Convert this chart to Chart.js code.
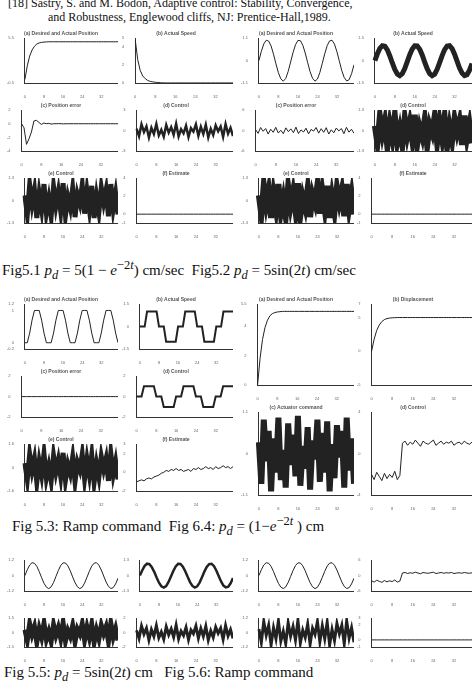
<!DOCTYPE html>
<html><head><meta charset="utf-8">
<script src="https://cdn.jsdelivr.net/npm/chart.js@4"></script>
<style>
body{margin:0;background:#fff;width:474px;height:681px;position:relative;overflow:hidden;font-family:"Liberation Serif",serif;}
canvas{position:absolute;}
.t{position:absolute;white-space:nowrap;color:#111;}
</style></head><body>
<div class="t" style="left:8px;top:-4px;font-size:12px">[18] Sastry, S. and M. Bodon, Adaptive control: Stability, Convergence,</div>
<div class="t" style="left:48px;top:10px;font-size:12px">and Robustness, Englewood cliffs, NJ: Prentice-Hall,1989.</div>
<div class="t" style="left:2px;top:258px;font-size:15px">Fig5.1 <i>p<sub>d</sub></i> = 5(1 &minus; <i>e</i><sup>&minus;2<i>t</i></sup>) cm/sec &nbsp;Fig5.2 <i>p<sub>d</sub></i> = 5sin(2<i>t</i>) cm/sec</div>
<div class="t" style="left:12px;top:514px;font-size:15px">Fig 5.3: Ramp command &nbsp;Fig 6.4: <i>p<sub>d</sub></i> = (1&minus;<i>e</i><sup>&minus;2<i>t</i></sup> ) cm</div>
<div class="t" style="left:4px;top:664px;font-size:15px">Fig 5.5: <i>p<sub>d</sub></i> = 5sin(2<i>t</i>) cm &nbsp;&nbsp;Fig 5.6: Ramp command</div>
<script>
// values (approximate)
const riseVals = [0,1.8,3.1,3.9,4.4,4.7,4.85,4.92,4.96,4.98,5,5,5,5,5,5,5,5,5,5,5,5,5,5,5,5,5,5,5,5,5,5,5,5,5,5,5,5,5,5];
const decayVals = [4.8,2.6,1.4,0.8,0.5,0.3,0.2,0.15,0.1,0.08,0.05,0.04,0.03,0.03,0.03,0.03,0.03,0.03,0.03,0.03,0.03,0.03,0.03,0.03,0.03,0.03,0.03,0.03,0.03,0.03,0.03,0.03,0.03,0.03,0.03,0.03,0.03,0.03,0.03,0.03];
const dipVals = [0,-0.6,-3,-2.2,-1.2,0.4,0.5,0.2,-0.1,0.1,0,0.05,-0.05,0,0,0.02,0,-0.02,0,0,0,0,0,0,0,0,0,0,0,0,0,0,0,0,0,0,0,0,0,0];
const noiseVals = [0.3,-0.8,0.9,-0.2,0.6,-1,0.4,-0.5,0.95,-0.7,0.1,-0.9,0.8,-0.3,0.5,-0.6,1,-0.85,0.2,-0.4,0.7,-0.95,0.35,-0.15,0.9,-0.75,0.55,-0.5,0.85,-1,0.25,-0.65,0.75,-0.1,0.6,-0.9,0.95,-0.45,0.4,-0.8];
const sineVals = [0,0.45,0.81,0.99,0.95,0.71,0.31,-0.16,-0.59,-0.89,-1,-0.87,-0.53,-0.07,0.39,0.77,0.98,0.97,0.75,0.37,-0.1,-0.54,-0.86,-1,-0.9,-0.58,-0.13,0.33,0.73,0.96,0.99,0.8,0.43,-0.03,-0.49,-0.83,-0.99,-0.93,-0.64,-0.2];
const trapVals = [0,0,0.3,0.7,1,1,1,0.7,0.3,0,0,0,0.3,0.7,1,1,1,0.7,0.3,0,0,0,0.3,0.7,1,1,1,0.7,0.3,0,0,0,0.3,0.7,1,1,1,0.7,0.3,0];
const stepVals = [0,0,0,1,1,1,1,1,0,0,0,-1,-1,-1,-1,-1,0,0,0,1,1,1,1,1,0,0,0,-1,-1,-1,-1,-1,0,0,0,1,1,1,1,1];
const flatVals = [0,0,0,0,0,0,0,0,0,0,0,0,0,0,0,0,0,0,0,0,0,0,0,0,0,0,0,0,0,0,0,0,0,0,0,0,0,0,0,0];
const jumpVals = [-2,-2.5,-1.8,-2.2,-2.6,-1.9,-2.4,-2,-2.3,-1.7,-2.5,-2.1,1,1.2,0.8,1.1,0.9,1.3,1,0.7,1.2,1,0.9,1.1,1.3,0.8,1,1.2,0.9,1.1,1,1.2,0.8,1,1.1,0.9,1.2,1,0.9,1.1];
const slowVals = [-1,-0.9,-0.8,-0.9,-0.7,-0.6,-0.7,-0.5,-0.4,-0.3,-0.1,0,0.2,0.1,0.3,0.2,0.4,0.2,0.3,0.1,0.2,0.3,0.1,0.4,0.3,0.5,0.3,0.4,0.6,0.4,0.5,0.3,0.6,0.4,0.5,0.7,0.5,0.6,0.4,0.6];
const labels = noiseVals.map((v, i) => i);

function panel(x, y, w, h, data, title, ymin, ymax, lw) {
    const c = document.createElement('canvas');
    c.width = w; c.height = h;
    c.style.left = x + 'px'; c.style.top = y + 'px';
    document.body.appendChild(c);
    const tickFont = { size: 4 };
    new Chart(c, {
        type: 'line',
        data: { labels: labels, datasets: [{ data: data, borderColor: '#222', borderWidth: lw || 1, pointRadius: 0, tension: 0 }] },
        options: {
            responsive: false, animation: false,
            plugins: { legend: { display: false }, tooltip: { enabled: false },
                title: { display: true, text: title, font: { size: 5 }, color: '#555', padding: 1 } },
            scales: {
                x: { ticks: { font: tickFont, color: '#666', maxTicksLimit: 5 }, grid: { display: false }, border: { color: '#333' } },
                y: { min: ymin, max: ymax, ticks: { font: tickFont, color: '#666', maxTicksLimit: 4 }, grid: { display: false }, border: { color: '#333' } }
            }
        }
    });
}

// Fig 5.1
panel(4, 30, 114, 72, riseVals, '(a) Desired and Actual Position', -0.5, 5.5);
panel(119, 30, 114, 72, decayVals, '(b) Actual Speed', 0, 5);
panel(4, 102, 114, 68, dipVals, '(c) Position error', -4, 2);
panel(119, 102, 114, 68, noiseVals, '(d) Control', -3, 3, 2.5);
panel(4, 170, 114, 72, noiseVals, '(e) Control', -1.3, 1.3, 5);
panel(119, 170, 114, 72, flatVals, '(f) Estimate', -1, 4);
// Fig 5.2
panel(238, 30, 116, 72, sineVals, '(a) Desired and Actual Position', -1.1, 1.1);
panel(354, 30, 118, 72, sineVals, '(b) Actual Speed', -1.5, 1.5, 5);
panel(238, 102, 116, 68, noiseVals, '(c) Position error', -6, 6);
panel(354, 102, 118, 68, noiseVals, '(d) Control', -1.3, 1.3, 6);
panel(238, 170, 116, 72, noiseVals, '(e) Control', -1.3, 1.3, 6);
panel(354, 170, 118, 72, flatVals, '(f) Estimate', -1, 4);
// Fig 5.3
panel(4, 296, 114, 72, trapVals, '(a) Desired and Actual Position', -0.2, 1.2);
panel(119, 296, 114, 72, stepVals, '(b) Actual Speed', -1.5, 1.5, 2);
panel(4, 368, 114, 68, flatVals, '(c) Position error', -2, 2);
panel(119, 368, 114, 68, stepVals, '(d) Control', -2, 2, 2);
panel(4, 436, 114, 74, noiseVals, '(e) Control', -1.6, 1.6, 5);
panel(119, 436, 114, 74, slowVals, '(f) Estimate', -2, 3);
// Fig 6.4
panel(238, 296, 116, 108, riseVals, '(a) Desired and Actual Position', 0, 5.5);
panel(354, 296, 118, 108, riseVals, '(b) Displacement', -5, 7);
panel(238, 404, 116, 110, noiseVals, '(c) Actuator command', -1.1, 1.1, 6);
panel(354, 404, 118, 110, jumpVals, '(d) Control', -4, 4);
// Fig 5.5 / 5.6
panel(4, 552, 114, 58, sineVals, '', -1.2, 1.2);
panel(119, 552, 114, 58, sineVals, '', -1.3, 1.3, 2.5);
panel(4, 610, 114, 56, noiseVals, '', -1.5, 1.5, 5);
panel(119, 610, 114, 56, noiseVals, '', -2, 2, 3);
panel(238, 552, 116, 58, sineVals, '', -1.2, 1.2);
panel(354, 552, 118, 58, jumpVals, '', -6, 6);
panel(238, 610, 116, 56, noiseVals, '', -1.2, 1.2, 3);
panel(354, 610, 118, 56, flatVals, '', -1, 3);
</script>
</body></html>
